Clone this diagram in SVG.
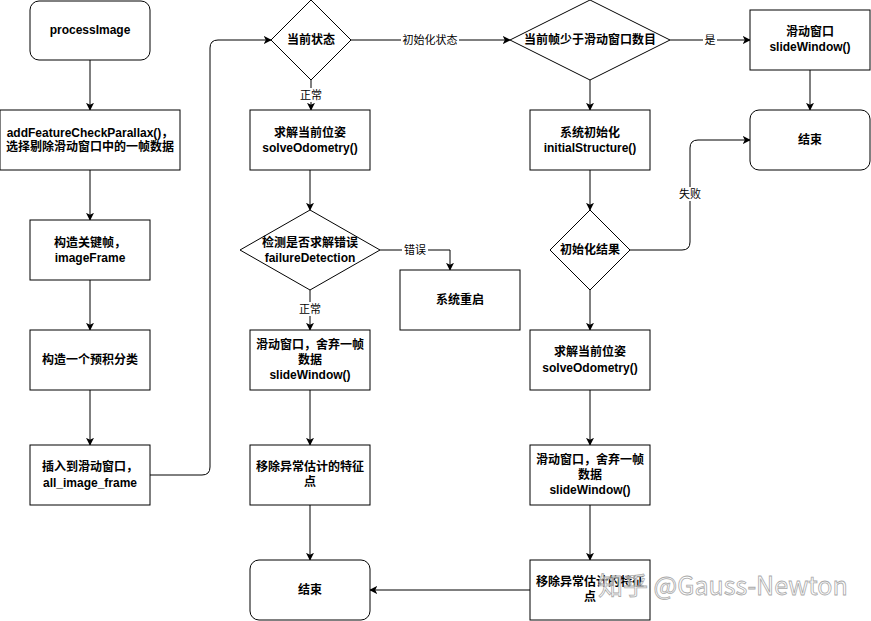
<svg xmlns="http://www.w3.org/2000/svg" width="871" height="621" viewBox="0 0 871 621">
<defs>
<marker id="arr" viewBox="0 0 10 10" refX="9" refY="5" markerWidth="8" markerHeight="8" orient="auto" markerUnits="userSpaceOnUse">
<path d="M0,0 L10,5 L0,10 L2.5,5 Z" fill="#000"/>
</marker>
<style>
.box{fill:#fff;stroke:#000;stroke-width:1}
.t{font-family:"Liberation Sans","Noto Sans CJK SC",sans-serif;font-size:12px;font-weight:bold;fill:#000;text-anchor:middle}
.lbl{font-family:"Liberation Sans","Noto Sans CJK SC",sans-serif;font-size:11px;fill:#000;text-anchor:middle}
.e{fill:none;stroke:#000;stroke-width:1;marker-end:url(#arr)}
.lb{fill:#fff}
</style>
</defs>
<rect width="871" height="621" fill="#fff"/>
<g id="connectors">
<path class="e" d="M90,60 V110"/>
<path class="e" d="M90,170 V220"/>
<path class="e" d="M90,280 V330"/>
<path class="e" d="M90,390 V445"/>
<path class="e" d="M150,475 H202 Q210,475 210,467 V48 Q210,40 218,40 H271"/>
<path class="e" d="M351,40 H510"/>
<rect class="lb" x="401" y="33" width="58" height="14"/>
<text class="lbl" x="430" y="44">初始化状态</text>
<path class="e" d="M311,80 V110"/>
<rect class="lb" x="298" y="88" width="26" height="14"/>
<text class="lbl" x="311" y="99">正常</text>
<path class="e" d="M310,170 V210"/>
<path class="e" d="M380,250 H450 V270"/>
<rect class="lb" x="402" y="243" width="26" height="14"/>
<text class="lbl" x="415" y="254">错误</text>
<path class="e" d="M310,290 V330"/>
<rect class="lb" x="297" y="302" width="26" height="14"/>
<text class="lbl" x="310" y="313">正常</text>
<path class="e" d="M310,390 V445"/>
<path class="e" d="M310,505 V560"/>
<path class="e" d="M670,40 H750"/>
<rect class="lb" x="703" y="33" width="14" height="14"/>
<text class="lbl" x="710" y="44">是</text>
<path class="e" d="M810,70 V110"/>
<path class="e" d="M590,80 V110"/>
<path class="e" d="M590,170 V210"/>
<path class="e" d="M630,250 H682 Q690,250 690,242 V148 Q690,140 698,140 H750"/>
<rect class="lb" x="677" y="187" width="26" height="14"/>
<text class="lbl" x="690" y="198">失败</text>
<path class="e" d="M590,290 V330"/>
<path class="e" d="M590,390 V445"/>
<path class="e" d="M590,505 V560"/>
<path class="e" d="M530,590 H370"/>
</g>
<g id="processImage"><rect class="box" x="30" y="1" width="120" height="59" rx="9"/><text class="t" x="90" y="34">processImage</text></g>
<g id="addFeature"><rect class="box" x="0" y="110" width="180" height="60"/><text class="t" x="90" y="137">addFeatureCheckParallax()，</text><text class="t" x="90" y="151">选择剔除滑动窗口中的一帧数据</text></g>
<g id="keyframe"><rect class="box" x="30" y="220" width="120" height="60"/><text class="t" x="90" y="247">构造关键帧，</text><text class="t" x="90" y="262">imageFrame</text></g>
<g id="preint"><rect class="box" x="30" y="330" width="120" height="60"/><text class="t" x="90" y="364">构造一个预积分类</text></g>
<g id="insert"><rect class="box" x="30" y="445" width="120" height="60"/><text class="t" x="90" y="471">插入到滑动窗口，</text><text class="t" x="90" y="487">all_image_frame</text></g>
<g id="state"><path class="box" d="M311,0 L351,40 L311,80 L271,40 Z"/><text class="t" x="311" y="44">当前状态</text></g>
<g id="solve1"><rect class="box" x="250" y="110" width="120" height="60"/><text class="t" x="310" y="137">求解当前位姿</text><text class="t" x="310" y="152">solveOdometry()</text></g>
<g id="failure"><path class="box" d="M310,210 L380,250 L310,290 L240,250 Z"/><text class="t" x="310" y="247">检测是否求解错误</text><text class="t" x="310" y="262">failureDetection</text></g>
<g id="restart"><rect class="box" x="400" y="270" width="120" height="60"/><text class="t" x="460" y="304">系统重启</text></g>
<g id="slide1"><rect class="box" x="250" y="330" width="120" height="60"/><text class="t" x="310" y="349">滑动窗口，舍弃一帧</text><text class="t" x="310" y="364">数据</text><text class="t" x="310" y="379">slideWindow()</text></g>
<g id="remove1"><rect class="box" x="250" y="445" width="120" height="60"/><text class="t" x="310" y="471">移除异常估计的特征</text><text class="t" x="310" y="486">点</text></g>
<g id="end1"><rect class="box" x="250" y="560" width="120" height="60" rx="9"/><text class="t" x="310" y="594">结束</text></g>
<g id="lessFrames"><path class="box" d="M590,0 L670,40 L590,80 L510,40 Z"/><text class="t" x="590" y="44">当前帧少于滑动窗口数目</text></g>
<g id="slide0"><rect class="box" x="750" y="10" width="120" height="60"/><text class="t" x="810" y="36">滑动窗口</text><text class="t" x="810" y="51">slideWindow()</text></g>
<g id="end0"><rect class="box" x="750" y="110" width="120" height="60" rx="9"/><text class="t" x="810" y="144">结束</text></g>
<g id="init"><rect class="box" x="530" y="110" width="120" height="60"/><text class="t" x="590" y="137">系统初始化</text><text class="t" x="590" y="152">initialStructure()</text></g>
<g id="initResult"><path class="box" d="M590,210 L630,250 L590,290 L550,250 Z"/><text class="t" x="590" y="254">初始化结果</text></g>
<g id="solve2"><rect class="box" x="530" y="330" width="120" height="60"/><text class="t" x="590" y="356">求解当前位姿</text><text class="t" x="590" y="372">solveOdometry()</text></g>
<g id="slide2"><rect class="box" x="530" y="445" width="120" height="60"/><text class="t" x="590" y="464">滑动窗口，舍弃一帧</text><text class="t" x="590" y="479">数据</text><text class="t" x="590" y="494">slideWindow()</text></g>
<g id="remove2"><rect class="box" x="530" y="560" width="120" height="60"/><text class="t" x="590" y="586">移除异常估计的特征</text><text class="t" x="590" y="601">点</text></g>
<text x="598" y="595" font-family="'Noto Sans CJK SC','Liberation Sans',sans-serif" font-size="25" fill="#fff" fill-opacity="0.6" stroke="#aaa" stroke-width="0.8">知乎 @Gauss-Newton</text>
</svg>
